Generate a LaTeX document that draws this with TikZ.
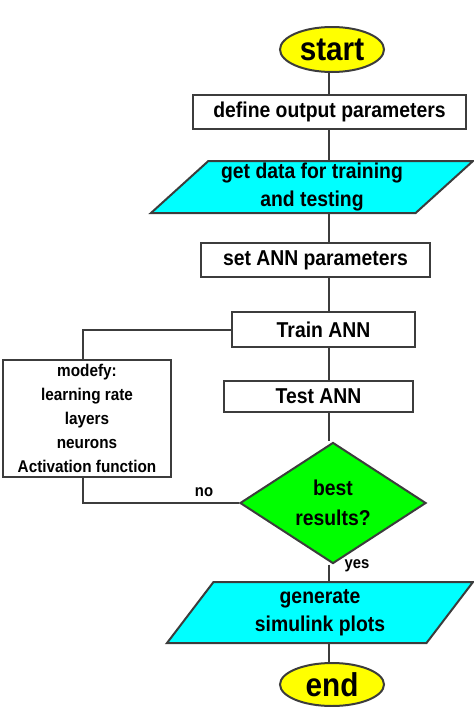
\documentclass[tikz,border=0pt]{standalone}
\usepackage{fontspec}
\setmainfont{Liberation Sans}
\newfontfamily\flowfont[FakeStretch=0.9]{Liberation Sans}
\usetikzlibrary{shapes.geometric}
\definecolor{flowline}{HTML}{3C3C3C}
\definecolor{flowcyan}{HTML}{00FFFF}
\definecolor{flowgreen}{HTML}{00FF00}
\definecolor{flowyellow}{HTML}{FFFF00}

\begin{document}
\begin{tikzpicture}[x=1pt, y=-1pt,
        termbox/.style={draw=flowline, line width=2pt, ellipse, fill=flowyellow,
                        minimum width=104pt, minimum height=45pt, inner sep=0pt,
                        font=\flowfont\fontsize{33}{33}\selectfont\bfseries},
        procbox/.style={draw=flowline, line width=2pt, rectangle, fill=white,
                        inner sep=0pt, align=center,
                        font=\flowfont\fontsize{21.5}{28}\selectfont\bfseries},
        databox/.style={draw=flowline, line width=2pt, trapezium,
                        trapezium stretches body, fill=flowcyan,
                        inner sep=0pt, align=center,
                        font=\flowfont\fontsize{21.5}{28}\selectfont\bfseries},
        decbox/.style={draw=flowline, line width=2pt, diamond, fill=flowgreen,
                       minimum width=186pt, minimum height=98pt, inner sep=0pt,
                       align=center, font=\flowfont\fontsize{21.5}{30}\selectfont\bfseries},
        modbox/.style={draw=flowline, line width=2pt, rectangle, fill=white,
                       inner sep=0pt, align=center,
                       font=\flowfont\fontsize{17}{24}\selectfont\bfseries},
        lbl/.style={font=\flowfont\fontsize{16.5}{16.5}\selectfont\bfseries},
        line/.style={flowline, line width=2pt}
    ]
        \useasboundingbox (0,0) rectangle (474,707);

        % main column
        \node[termbox] (start) at (332,49.5) {start};
        \node[procbox, minimum width=273pt, minimum height=34pt] (define)  at (329.5,112) {define output parameters};
        \node[databox, trapezium left angle=40, trapezium right angle=140,
              minimum width=322pt, minimum height=52pt] (getdata) at (312,187) {get data for training\\ and testing};
        \node[procbox, minimum width=229pt, minimum height=34pt] (setann)  at (315.5,260) {set ANN parameters};
        \node[procbox, minimum width=183pt, minimum height=35pt] (train)   at (323.5,329.5) {Train ANN};
        \node[procbox, minimum width=189pt, minimum height=31pt] (test)    at (318.5,396.5) {Test ANN};
        \node[decbox] (best) at (333,503) {best\\results?};
        \node[databox, trapezium left angle=45, trapezium right angle=135,
              minimum width=306pt, minimum height=61pt] (generate) at (320,612.5) {generate\\simulink plots};
        \node[termbox, minimum height=43pt] (end) at (332,684.5) {end};

        % loop box
        \node[modbox, minimum width=168pt, minimum height=117pt] (modefy) at (87,418.5)
            {modefy:\\learning rate\\layers\\neurons\\Activation function};

        \coordinate (spine) at (329,0);
        \coordinate (loopx) at (83,0);

        \draw[line] (spine |- start.south)    -- (spine |- define.north);
        \draw[line] (spine |- define.south)   -- (spine |- getdata.north);
        \draw[line] (spine |- getdata.south)  -- (spine |- setann.north);
        \draw[line] (spine |- setann.south)   -- (spine |- train.north);
        \draw[line] (spine |- train.south)    -- (spine |- test.north);
        \draw[line] (spine |- test.south)     -- (spine |- best.north);
        \draw[line] (spine |- best.south)     -- (spine |- generate.north);
        \draw[line] (spine |- generate.south) -- (spine |- end.north);

        \draw[line] (train.west) -| (loopx |- modefy.north);
        \draw[line] (loopx |- modefy.south) |- (best.west);

        \node[lbl] (nolbl)  at (204,492) {no};
        \node[lbl] (yeslbl) at (357,566) {yes};
    \end{tikzpicture}
\end{document}
